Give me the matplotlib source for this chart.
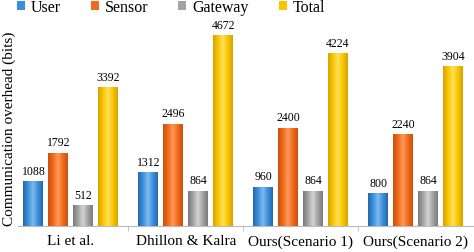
import numpy as np
import matplotlib.pyplot as plt
from matplotlib.patches import Patch

schemes = ['Li et al.', 'Dhillon & Kalra', 'Ours(Scenario 1)', 'Ours(Scenario 2)']
series = ['User', 'Sensor', 'Gateway', 'Total']
user = [1088, 1312, 960, 800]
sensor = [1792, 2496, 2400, 2240]
gateway = [512, 864, 864, 864]
total = [3392, 4672, 4224, 3904]
values = [user, sensor, gateway, total]

colors = ['#3b8fd9', '#f06a1a', '#a3a3a3', '#f7c600']
dark = ['#2468b0', '#c9510f', '#7a7a7a', '#dba200']
light = ['#7fbcf0', '#ff9a5a', '#d4d4d4', '#ffe05a']

plt.rcParams['font.family'] = ['Liberation Serif', 'DejaVu Serif']

fig = plt.figure(figsize=(4.74, 2.53), dpi=100)
ax = fig.add_axes([0.038, 0.103, 0.962, 0.897])

x = np.arange(len(schemes))
w = 0.174
step = 0.217
offs = (np.arange(4) - 1.5) * step

for i, vals in enumerate(values):
    bars = ax.bar(x + offs[i], vals, w, color=colors[i], zorder=2)
    cmap = plt.matplotlib.colors.LinearSegmentedColormap.from_list(
        'g%d' % i, [dark[i], colors[i], light[i], colors[i], dark[i]])
    grad = np.linspace(0, 1, 64).reshape(1, -1)
    for b, v in zip(bars, vals):
        x0 = b.get_x()
        im = ax.imshow(grad, cmap=cmap, aspect='auto', zorder=3,
                       extent=[x0, x0 + b.get_width(), 0, v])
        im.set_clip_path(b)
        ax.text(x0 + b.get_width() / 2, v + 110, str(v), ha='center',
                va='bottom', fontsize=8.5, zorder=4)

ax.set_xlim(-0.46, 3.51)
ax.set_ylim(0, 5553)
ax.set_xticks(x)
ax.set_xticklabels(schemes, fontsize=11)
ax.tick_params(axis='x', length=0, pad=6)
ax.set_xticks(x[:-1] + 0.5, minor=True)
ax.tick_params(axis='x', which='minor', length=3.5, direction='out', color='#bbbbbb')
ax.set_yticks([])
for s in ['top', 'right', 'left']:
    ax.spines[s].set_visible(False)
ax.spines['bottom'].set_color('#bbbbbb')
fig.text(0.019, 0.49, 'Communication overhead (bits)', rotation=90,
         ha='center', va='center', fontsize=11)

handles = [Patch(facecolor=colors[i], label=series[i]) for i in range(4)]
fig.legend(handles=handles, loc='upper left', ncol=4, frameon=False,
           prop={'family': 'Liberation Serif', 'size': 11.5},
           handlelength=0.5, handleheight=0.5, handletextpad=0.35,
           columnspacing=1.9, bbox_to_anchor=(0.022, 1.025), borderaxespad=0)

fig.savefig('out.png', dpi=100)
